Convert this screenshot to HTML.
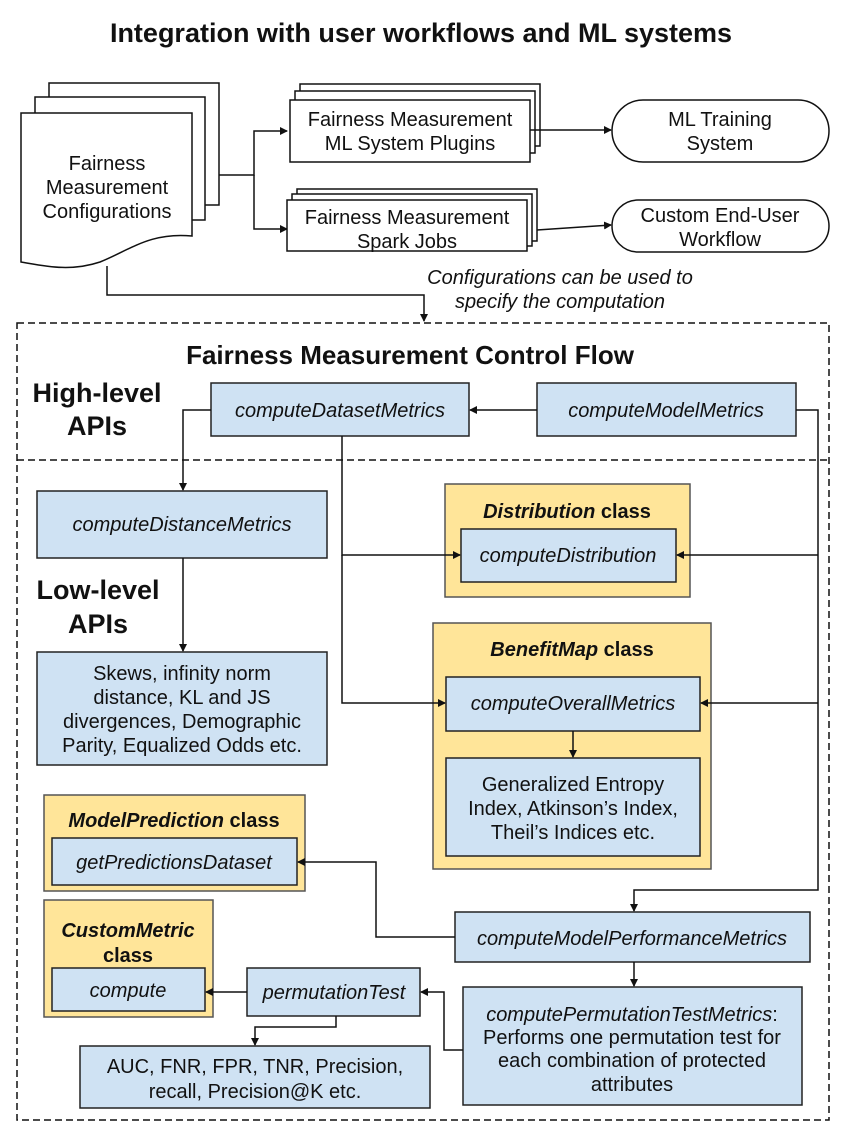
<!DOCTYPE html>
<html><head><meta charset="utf-8"><style>
body{margin:0;background:#fff}
text{font-family:"Liberation Sans",Arial,sans-serif;fill:#111}
.t{font-size:20px;text-anchor:middle}
.i{font-style:italic}
.b{font-weight:bold}
.bl{fill:#cfe2f3;stroke:#222;stroke-width:1.5}
.ye{fill:#ffe599;stroke:#555;stroke-width:1.5}
.w{fill:#fff;stroke:#111;stroke-width:1.5}
.l{fill:none;stroke:#111;stroke-width:1.5}
</style></head><body>
<svg width="842" height="1141" viewBox="0 0 842 1141" xmlns="http://www.w3.org/2000/svg">
<defs><marker id="a" markerWidth="8" markerHeight="8" refX="7" refY="4" orient="auto" markerUnits="userSpaceOnUse"><path d="M0,0 L8,4 L0,8z" fill="#111"/></marker></defs>
<text x="421" y="42" class="t b" style="font-size:27px">Integration with user workflows and ML systems</text>
<rect x="49" y="83" width="170" height="122" class="w"/>
<rect x="35" y="97" width="170" height="123" class="w"/>
<path d="M21,113 H192 V236 C150,232 130,250 100,262 C70,272 45,266 21,262 Z" class="w"/>
<text x="107" y="170" class="t">Fairness</text>
<text x="107" y="194" class="t">Measurement</text>
<text x="107" y="218" class="t">Configurations</text>
<path d="M219,175 H254 V131 H287" class="l" marker-end="url(#a)"/>
<path d="M254,175 V229 H287" class="l" marker-end="url(#a)"/>
<rect x="300" y="84" width="240" height="62" class="w"/>
<rect x="295" y="91" width="240" height="62" class="w"/>
<rect x="290" y="100" width="240" height="62" class="w"/>
<text x="410" y="126" class="t">Fairness Measurement</text>
<text x="410" y="150" class="t">ML System Plugins</text>
<rect x="297" y="189" width="240" height="52" class="w"/>
<rect x="292" y="194" width="240" height="52" class="w"/>
<rect x="287" y="200" width="240" height="51" class="w"/>
<text x="407" y="224" class="t">Fairness Measurement</text>
<text x="407" y="248" class="t">Spark Jobs</text>
<path d="M530,130 H611" class="l" marker-end="url(#a)"/>
<path d="M537,230 L611,225" class="l" marker-end="url(#a)"/>
<rect x="612" y="100" width="217" height="62" rx="31" class="w"/>
<text x="720" y="126" class="t">ML Training</text>
<text x="720" y="150" class="t">System</text>
<rect x="612" y="200" width="217" height="52" rx="26" class="w"/>
<text x="720" y="222" class="t">Custom End-User</text>
<text x="720" y="246" class="t">Workflow</text>
<text x="560" y="284" class="t i">Configurations can be used to</text>
<text x="560" y="308" class="t i">specify the computation</text>
<path d="M107,266 V295 H424 V321" class="l" marker-end="url(#a)"/>
<rect x="17" y="323" width="812" height="797" fill="none" stroke="#111" stroke-width="1.5" stroke-dasharray="7,4"/>
<line x1="17" y1="460" x2="829" y2="460" stroke="#111" stroke-width="1.5" stroke-dasharray="7,4"/>
<text x="410" y="364" class="t b" style="font-size:26px">Fairness Measurement Control Flow</text>
<text x="97" y="402" class="t b" style="font-size:27px">High-level</text>
<text x="97" y="435" class="t b" style="font-size:27px">APIs</text>
<text x="98" y="599" class="t b" style="font-size:27px">Low-level</text>
<text x="98" y="633" class="t b" style="font-size:27px">APIs</text>
<rect x="211" y="383" width="258" height="53" class="bl"/>
<text x="340" y="417" class="t i">computeDatasetMetrics</text>
<rect x="537" y="383" width="259" height="53" class="bl"/>
<text x="666" y="417" class="t i">computeModelMetrics</text>
<path d="M537,410 H470" class="l" marker-end="url(#a)"/>
<rect x="37" y="491" width="290" height="67" class="bl"/>
<text x="182" y="531" class="t i">computeDistanceMetrics</text>
<path d="M211,410 H183 V490" class="l" marker-end="url(#a)"/>
<rect x="37" y="652" width="290" height="113" class="bl"/>
<text x="182" y="680" class="t">Skews, infinity norm</text>
<text x="182" y="704" class="t">distance, KL and JS</text>
<text x="182" y="728" class="t">divergences, Demographic</text>
<text x="182" y="752" class="t">Parity, Equalized Odds etc.</text>
<path d="M183,558 V651" class="l" marker-end="url(#a)"/>
<rect x="445" y="484" width="245" height="113" class="ye"/>
<text x="567" y="518" class="t b"><tspan class="i">Distribution</tspan> class</text>
<rect x="461" y="529" width="215" height="53" class="bl"/>
<text x="568" y="562" class="t i">computeDistribution</text>
<rect x="433" y="623" width="278" height="246" class="ye"/>
<text x="572" y="656" class="t b"><tspan class="i">BenefitMap</tspan> class</text>
<rect x="446" y="677" width="254" height="54" class="bl"/>
<text x="573" y="710" class="t i">computeOverallMetrics</text>
<rect x="446" y="758" width="254" height="98" class="bl"/>
<text x="573" y="791" class="t">Generalized Entropy</text>
<text x="573" y="815" class="t">Index, Atkinson’s Index,</text>
<text x="573" y="839" class="t">Theil’s Indices etc.</text>
<path d="M573,731 V757" class="l" marker-end="url(#a)"/>
<path d="M342,436 V555 H460" class="l" marker-end="url(#a)"/>
<path d="M342,555 V703 H445" class="l" marker-end="url(#a)"/>
<path d="M796,410 H818 V890 H634 V911" class="l" marker-end="url(#a)"/>
<path d="M818,555 H677" class="l" marker-end="url(#a)"/>
<path d="M818,703 H701" class="l" marker-end="url(#a)"/>
<rect x="44" y="795" width="261" height="96" class="ye"/>
<text x="174" y="827" class="t b"><tspan class="i">ModelPrediction</tspan> class</text>
<rect x="52" y="838" width="245" height="47" class="bl"/>
<text x="174" y="869" class="t i">getPredictionsDataset</text>
<rect x="455" y="912" width="355" height="50" class="bl"/>
<text x="632" y="945" class="t i">computeModelPerformanceMetrics</text>
<path d="M455,937 H376 V862 H298" class="l" marker-end="url(#a)"/>
<rect x="44" y="900" width="169" height="117" class="ye"/>
<text x="128" y="937" class="t b i">CustomMetric</text>
<text x="128" y="962" class="t b">class</text>
<rect x="52" y="968" width="153" height="43" class="bl"/>
<text x="128" y="997" class="t i">compute</text>
<rect x="247" y="968" width="173" height="48" class="bl"/>
<text x="334" y="999" class="t i">permutationTest</text>
<path d="M247,992 H206" class="l" marker-end="url(#a)"/>
<path d="M336,1016 V1027 H255 V1045" class="l" marker-end="url(#a)"/>
<rect x="80" y="1046" width="350" height="62" class="bl"/>
<text x="255" y="1073" class="t">AUC, FNR, FPR, TNR, Precision,</text>
<text x="255" y="1098" class="t">recall, Precision@K etc.</text>
<rect x="463" y="987" width="339" height="118" class="bl"/>
<text x="632" y="1021" class="t"><tspan class="i">computePermutationTestMetrics</tspan>:</text>
<text x="632" y="1044" class="t">Performs one permutation test for</text>
<text x="632" y="1067" class="t">each combination of protected</text>
<text x="632" y="1091" class="t">attributes</text>
<path d="M634,962 V986" class="l" marker-end="url(#a)"/>
<path d="M463,1050 H444 V992 H421" class="l" marker-end="url(#a)"/>
</svg>
</body></html>
